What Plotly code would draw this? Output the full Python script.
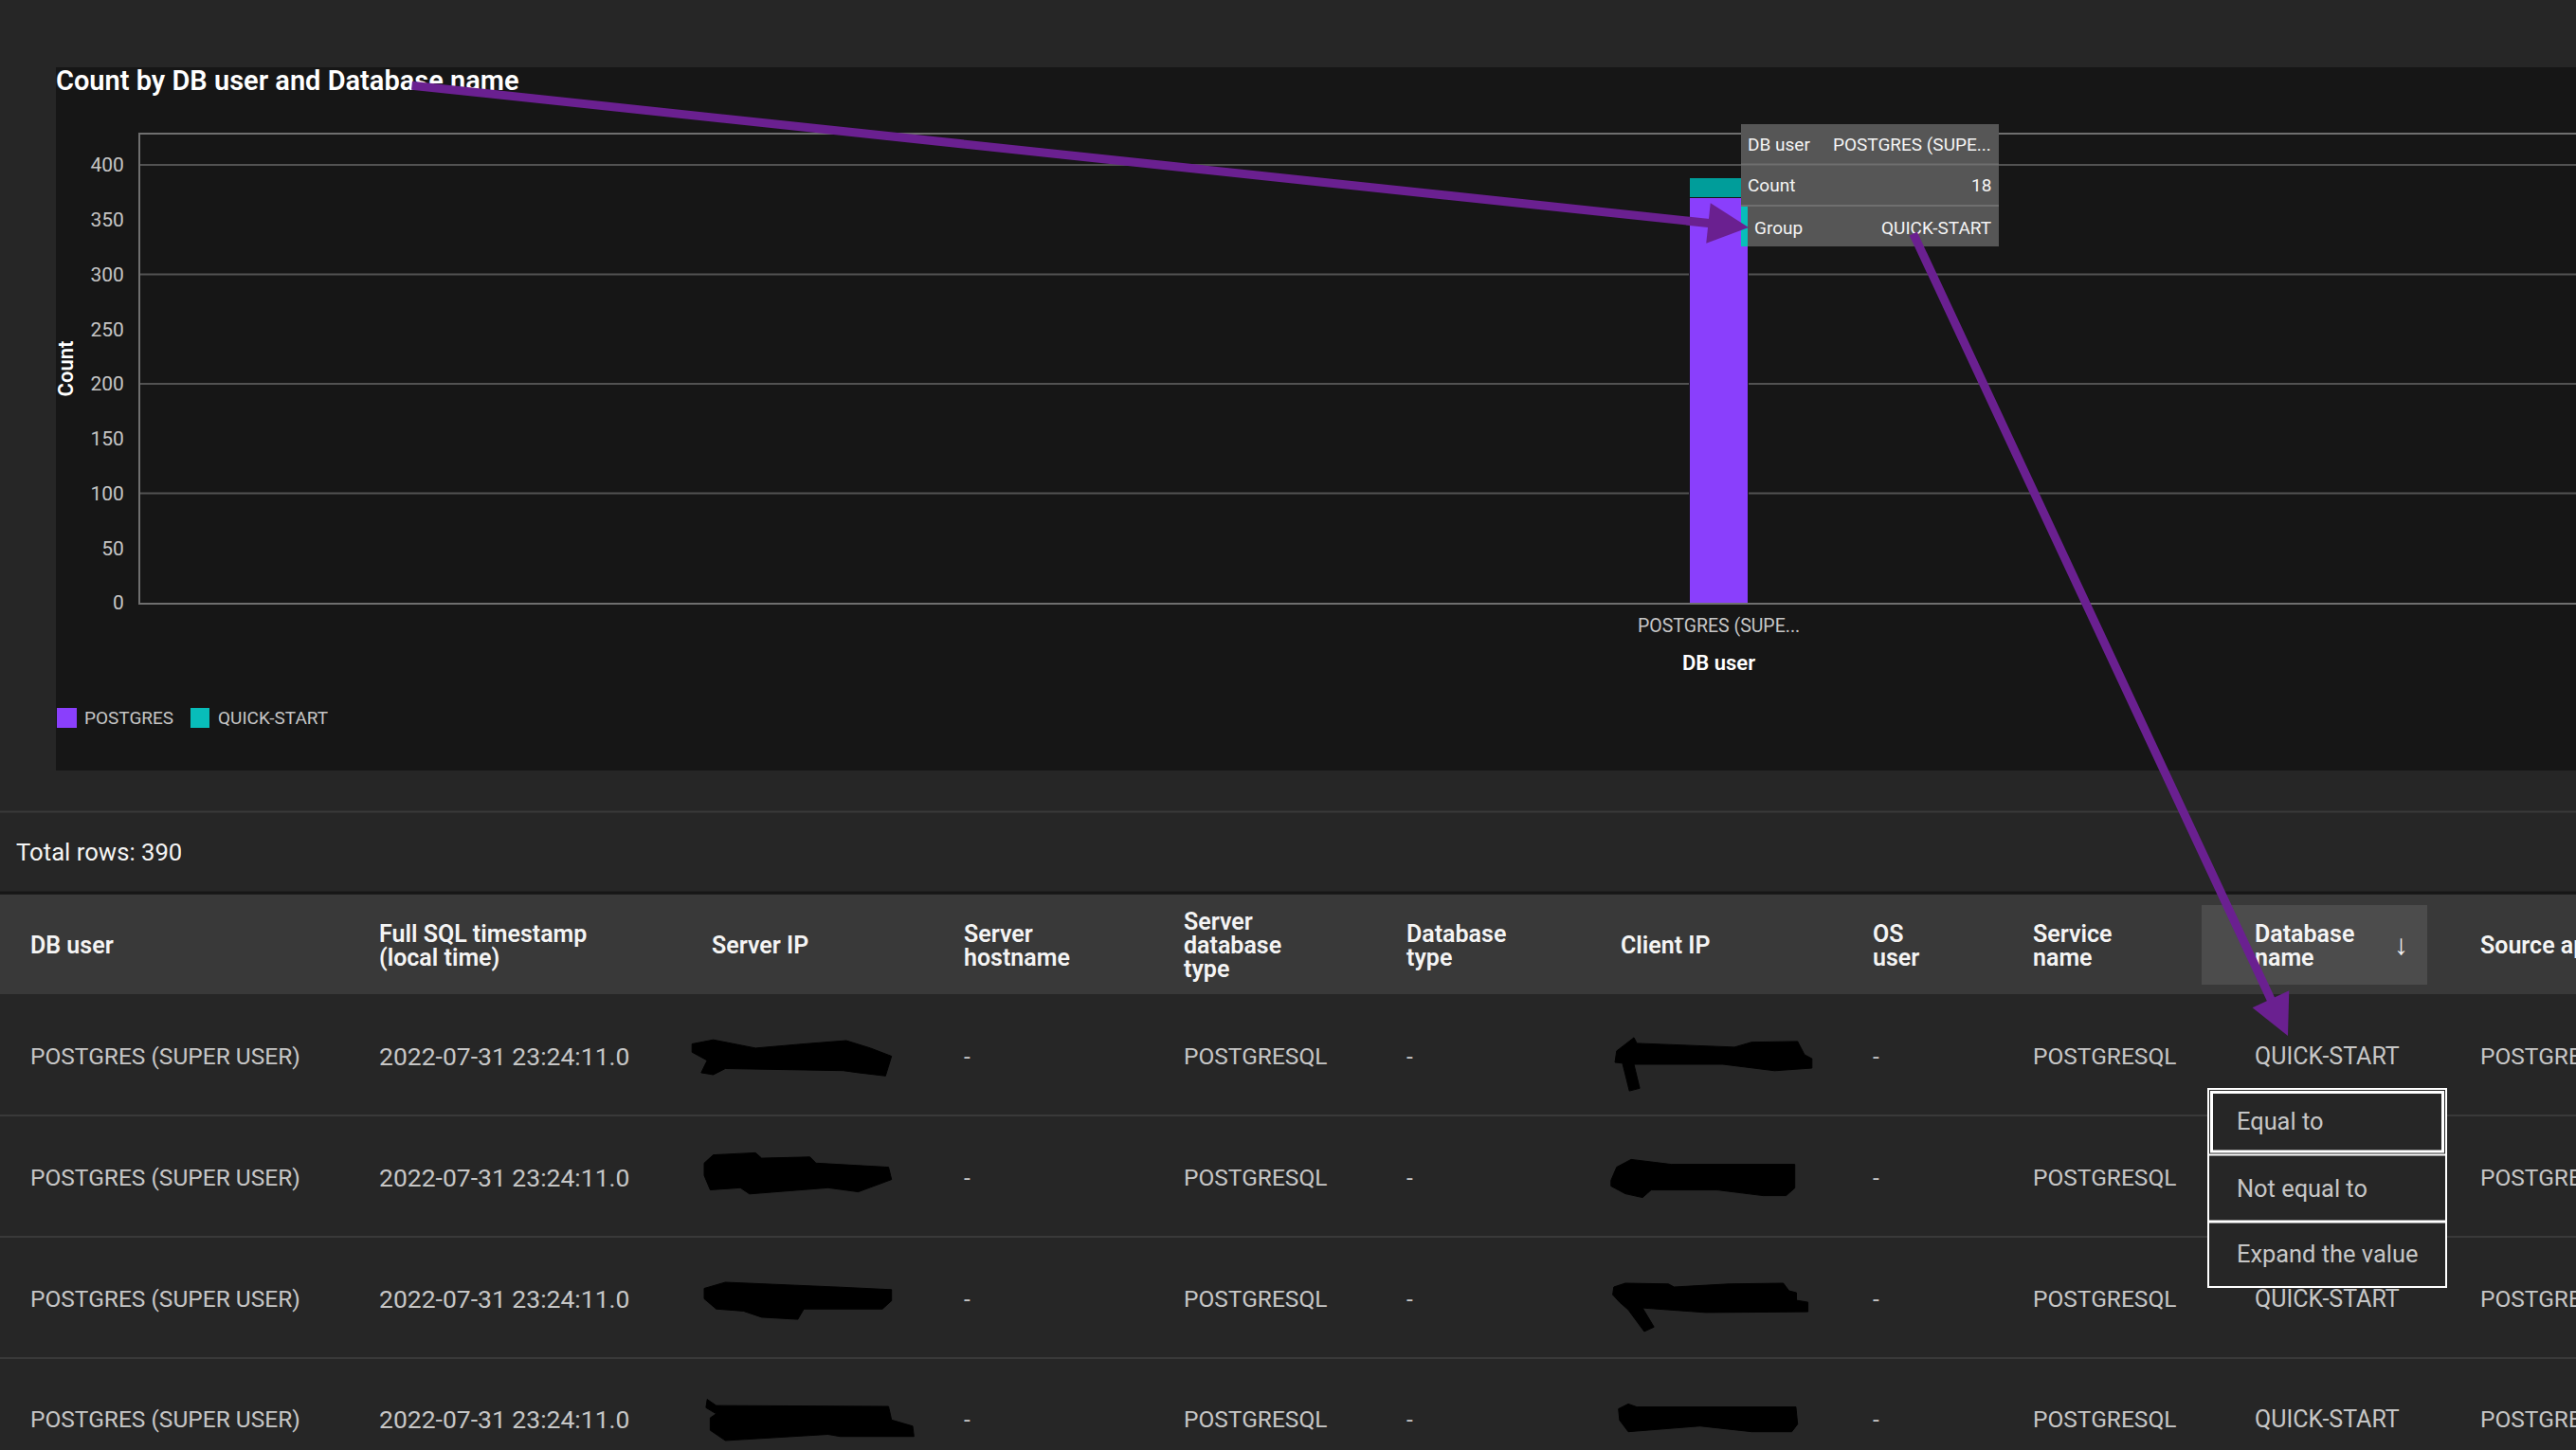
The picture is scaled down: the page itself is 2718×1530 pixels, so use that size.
import plotly.graph_objects as go

W, H = 2718, 1530
FONT = 'Roboto'

# chart data
db_users = ['POSTGRES (SUPE...']
postgres_counts = [370]
quick_start_counts = [18]
legend_names = ['POSTGRES', 'QUICK-START']
grid_values = [100, 200, 300, 400]
y_ticks = [0, 50, 100, 150, 200, 250, 300, 350, 400]

# tooltip
tooltip_labels = ['DB user', 'Count', 'Group']
tooltip_values = ['POSTGRES (SUPE...', '18', 'QUICK-START']

# table
total_rows = 'Total rows: 390'
headers = [['DB user'], ['Full SQL timestamp', '(local time)'], ['Server IP'], ['Server', 'hostname'],
           ['Server', 'database', 'type'], ['Database', 'type'], ['Client IP'], ['OS', 'user'],
           ['Service', 'name'], ['Database', 'name'], ['Source application']]
col_db_user = ['POSTGRES (SUPER USER)'] * 4
col_timestamp = ['2022-07-31 23:24:11.0'] * 4
col_hostname = ['-'] * 4
col_server_type = ['POSTGRESQL'] * 4
col_db_type = ['-'] * 4
col_os_user = ['-'] * 4
col_service = ['POSTGRESQL'] * 4
# second row is hidden behind the popup menu
col_db_name = ['QUICK-START', '', 'QUICK-START', 'QUICK-START']
col_source = ['POSTGRESQL'] * 4
menu_items = ['Equal to', 'Not equal to', 'Expand the value']

# colours
PAGE = '#262626'
PANEL = '#161616'
HEADER = '#393939'
GREY_TEXT = '#c6c6c6'
WHITE_TEXT = '#f4f4f4'
ARROW = '#6a2090'


def px(x):
    return x / W


def py(y):
    return 1 - y / H


shapes = []
annotations = []


def rect(x0, y0, x1, y1, fill=None, line=None, width=0, layer='above'):
    shapes.append(dict(type='rect', xref='paper', yref='paper', x0=px(x0), x1=px(x1), y0=py(y0), y1=py(y1),
                       fillcolor=fill, line=dict(color=line, width=width), layer=layer))


def hline(x0, x1, y, color, width=2, layer='above'):
    shapes.append(dict(type='line', xref='paper', yref='paper', x0=px(x0), x1=px(x1), y0=py(y), y1=py(y),
                       line=dict(color=color, width=width), layer=layer))


def label(text, x, y, size=24.5, color=GREY_TEXT, anchor='left', weight=400):
    # annotations keep about a pixel of padding on the left
    if anchor == 'left':
        x -= 1.5
    annotations.append(dict(text=text, xref='paper', yref='paper', x=px(x), y=py(y), showarrow=False,
                            xanchor=anchor, yanchor='middle', borderpad=0,
                            font=dict(family=FONT, size=size, color=color, weight=weight)))


# scribbles over the IP addresses, outlines traced in page pixels
def scribble(points):
    path = 'M ' + ' L '.join('%.1f,%.1f' % (x, y) for x, y in points) + ' Z'
    shapes.append(dict(type='path', xref='x3', yref='y3', path=path, fillcolor='#000000',
                       line=dict(color='#000000', width=1), layer='above'))


def from_zoom3(pts):
    return [(x / 1.568, 850 + y / 2.306) for x, y in pts]


def from_zoom5(pts):
    return [(1000 + x / 1.6505, 900 + y / 2.489) for x, y in pts]


# page furniture
rect(59, 71, W, 813, fill=PANEL, layer='below')
hline(0, W, 856.5, HEADER)
hline(0, W, 942, PANEL, width=3)
rect(0, 944, W, 1049, fill=HEADER)
rect(2323, 955, 2561, 1039, fill='#4c4c4c')
for y in [1177, 1305, 1433]:
    hline(0, W, y, HEADER)

# title and legend
label('Count by DB user and Database name', 59.5, 85, size=29, color='#ffffff', weight=600)
rect(60, 747, 81, 768, fill='#8a3ffc')
rect(201, 747, 221, 768, fill='#08bdba')
label(legend_names[0], 89.5, 757.5, size=19)
label(legend_names[1], 230, 757.5, size=19)

# tooltip
rect(1837, 131, 2109, 260, fill='#565656')
rect(1837, 217, 1844, 260, fill='#08bdba')
hline(1837, 2109, 173.5, '#6f6f6f')
hline(1837, 2109, 217, '#6f6f6f')
tooltip_x = [1844.5, 1844.5, 1851.5]
tooltip_y = [152.7, 196, 240]
for name, value, x, y in zip(tooltip_labels, tooltip_values, tooltip_x, tooltip_y):
    label(name, x, y, size=19, color=WHITE_TEXT)
    label(value, 2101.5, y, size=19, color=WHITE_TEXT, anchor='right')

# table text
label(total_rows, 17, 899, size=25.7, color=WHITE_TEXT)
column_x = [32, 400.5, 751, 1017.5, 1249, 1484, 1710, 1976, 2145, 2379, 2617]
for head, x in zip(headers, column_x):
    for i, line in enumerate(head):
        y = 997.5 + (i - (len(head) - 1) / 2) * 25
        label(line, x, y, size=25, color=WHITE_TEXT, weight=600)
label('↓', 2533, 996, size=30, color=WHITE_TEXT, anchor='center')

row_y = [1114, 1242, 1370, 1497]
columns = [(col_db_user, 0, 24.5), (col_timestamp, 1, 26.5), (col_hostname, 3, 24.5), (col_server_type, 4, 24.5),
           (col_db_type, 5, 24.5), (col_os_user, 7, 24.5), (col_service, 8, 24.5), (col_db_name, 9, 25),
           (col_source, 10, 24.5)]
for values, c, size in columns:
    for value, y in zip(values, row_y):
        if value:
            label(value, column_x[c], y, size=size)

# popup menu
rect(2330, 1149, 2581, 1358, fill=PAGE, line='#ffffff', width=2)
hline(2330, 2581, 1218.5, '#ffffff')
hline(2330, 2581, 1289, '#ffffff', width=3)
rect(2333.5, 1152.5, 2577.5, 1215, line='#ffffff', width=3)
for item, y in zip(menu_items, [1183, 1253.5, 1323]):
    label(item, 2360, y, size=25.4)

server_ip_marks = [
    [(1145, 580), (1180, 570), (1250, 590), (1330, 580), (1400, 572), (1440, 590), (1475, 610), (1465, 658),
     (1420, 650), (1395, 645), (1200, 640), (1180, 655), (1160, 650), (1170, 620), (1145, 600)],
    [(1165, 870), (1180, 850), (1250, 845), (1260, 858), (1340, 855), (1350, 870), (1470, 880), (1475, 910),
     (1420, 940), (1370, 930), (1240, 945), (1225, 930), (1175, 935), (1165, 900)],
    [(1165, 1175), (1200, 1160), (1390, 1172), (1475, 1178), (1475, 1205), (1460, 1225), (1330, 1225),
     (1320, 1250), (1260, 1245), (1230, 1230), (1185, 1225), (1165, 1200)],
    [(1170, 1445), (1185, 1460), (1470, 1462), (1475, 1495), (1510, 1510), (1512, 1535), (1390, 1535),
     (1370, 1530), (1200, 1545), (1175, 1520), (1175, 1490), (1185, 1480), (1168, 1465)],
]
client_ip_marks = [
    [(1165, 520), (1195, 485), (1200, 500), (1370, 510), (1400, 497), (1480, 495), (1492, 530), (1505, 540),
     (1505, 565), (1440, 572), (1350, 555), (1195, 555), (1205, 618), (1187, 625), (1175, 552), (1162, 550)],
    [(1155, 860), (1165, 825), (1190, 805), (1260, 818), (1475, 818), (1475, 880), (1460, 900), (1420, 900),
     (1340, 885), (1225, 885), (1210, 905), (1180, 895), (1155, 875)],
    [(1160, 1140), (1180, 1130), (1255, 1132), (1265, 1140), (1360, 1132), (1455, 1130), (1465, 1150),
     (1478, 1155), (1478, 1175), (1498, 1180), (1498, 1205), (1320, 1207), (1210, 1195), (1230, 1245),
     (1213, 1257), (1185, 1200), (1170, 1180), (1158, 1160)],
    [(1168, 1460), (1185, 1447), (1200, 1455), (1477, 1455), (1480, 1500), (1470, 1520), (1400, 1520),
     (1310, 1505), (1185, 1520), (1170, 1490)],
]
for pts in server_ip_marks:
    scribble(from_zoom3(pts))
for pts in client_ip_marks:
    scribble(from_zoom5(pts))

# grid only every 100 while the labels go every 50
for value in grid_values:
    shapes.append(dict(type='line', xref='x domain', yref='y', x0=0, x1=1, y0=value, y1=value,
                       line=dict(color='#525252', width=2), layer='below'))

# x axis title sits under the bar, not in the middle of the cropped axis
annotations.append(dict(text='DB user', xref='x', yref='paper', x=0, y=py(700), showarrow=False,
                        xanchor='center', yanchor='middle', borderpad=0,
                        font=dict(family=FONT, size=22, color='#ffffff', weight=600)))


# hand drawn arrows go last so that they cover the text
def arrow(x0, y0, x1, y1):
    annotations.append(dict(text='', xref='paper', yref='paper', x=px(x1), y=py(y1), ax=x0 - x1, ay=y0 - y1,
                            showarrow=True, arrowhead=2, arrowsize=0.95, arrowwidth=9, arrowcolor=ARROW,
                            standoff=0, startstandoff=0))


arrow(433, 90, 1845, 240)
arrow(2018, 245, 2414, 1093)

fig = go.Figure()
fig.add_trace(go.Bar(x=db_users, y=postgres_counts, name=legend_names[0], marker_color='#8a3ffc',
                     marker_line=dict(color=PANEL, width=1)))
fig.add_trace(go.Bar(x=db_users, y=quick_start_counts, name=legend_names[1], marker_color='#009d9a',
                     marker_line=dict(color=PANEL, width=1)))
# invisible trace on a page-pixel axis pair, the scribble outlines are placed on it
fig.add_trace(go.Scatter(x=[0], y=[0], xaxis='x3', yaxis='y3', mode='none', showlegend=False))

fig.update_layout(
    width=W, height=H,
    margin=dict(l=0, r=0, t=0, b=0),
    paper_bgcolor=PAGE,
    plot_bgcolor='rgba(0,0,0,0)',
    barmode='stack',
    bargap=0.9816,
    showlegend=False,
    hovermode=False,
    font=dict(family=FONT, color=GREY_TEXT),
    xaxis=dict(type='category', domain=[px(148), 1], range=[-0.5, 0.2715], automargin=False, showgrid=False,
               showline=True, linecolor='#6f6f6f', linewidth=2, mirror=True, ticks='', ticklabelstandoff=6,
               tickfont=dict(size=19.5, color=GREY_TEXT), fixedrange=True),
    yaxis=dict(domain=[py(636), py(142)], range=[0, 427.7], tickvals=y_ticks, automargin=False, showgrid=False,
               zeroline=False, showline=True, linecolor='#6f6f6f', linewidth=2, ticks='', ticklabelstandoff=11,
               tickfont=dict(size=21, color=GREY_TEXT),
               title=dict(text='Count', standoff=12, font=dict(size=22, color='#ffffff', weight=600)),
               fixedrange=True),
    xaxis3=dict(domain=[0, 1], range=[0, W], visible=False, anchor='y3', automargin=False),
    yaxis3=dict(domain=[0, 1], range=[H, 0], visible=False, anchor='x3', automargin=False),
    shapes=shapes,
    annotations=annotations,
)

fig.write_html('out.html', config=dict(displayModeBar=False),
               post_script="document.body.style.margin='0';document.body.style.overflow='hidden';")
